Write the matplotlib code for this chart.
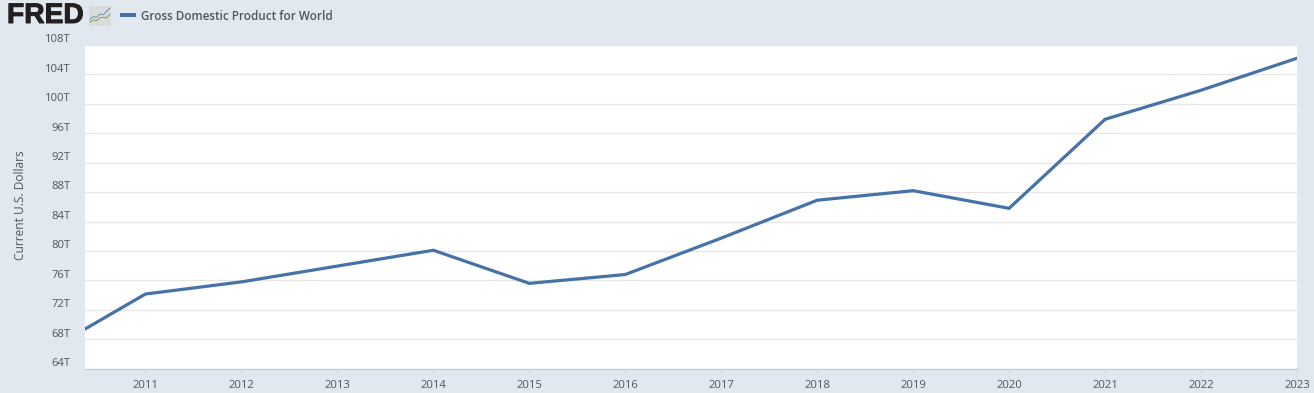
import matplotlib
matplotlib.use("Agg")
import matplotlib.pyplot as plt
import matplotlib.patheffects as pe
from matplotlib.patches import FancyBboxPatch, Rectangle

# World GDP, trillions of current USD
years = [2010, 2011, 2012, 2013, 2014, 2015, 2016, 2017, 2018, 2019, 2020, 2021, 2022, 2023]
gdp = [66.6, 74.15, 75.8, 77.95, 80.1, 75.6, 76.8, 81.75, 86.9, 88.2, 85.8, 97.9, 101.85, 106.2]

y_ticks = [64, 68, 72, 76, 80, 84, 88, 92, 96, 100, 104, 108]
x_ticks = [2011, 2012, 2013, 2014, 2015, 2016, 2017, 2018, 2019, 2020, 2021, 2022, 2023]

# little trend lines in the logo badge
logo_x = [0, 1, 2, 3, 4, 5, 6]
logo_blue = [3, 5, 4.5, 7, 6.5, 9, 11.5]
logo_green = [1, 2.5, 2, 4, 4.5, 4, 7]

W, H = 1314, 393
bg = "#e1e8ef"
blue = "#4572a7"
grey = "#51555d"

plt.rcParams["font.family"] = ["Open Sans", "DejaVu Sans"]

fig = plt.figure(figsize=(W / 100, H / 100), dpi=100, facecolor=bg)
ax = fig.add_axes([85 / W, 1 - 368.7 / H, (1297 - 85) / W, (368.7 - 45) / H])
ax.set_facecolor("white")

ax.plot(years, gdp, color=blue, lw=2.3, solid_joinstyle="miter", zorder=3)
ax.set_xlim(2011 - 60.5 / 96, 2023)
ax.set_ylim(64, 108)

ax.set_yticks(y_ticks)
ax.set_yticklabels([f"{v}T" for v in y_ticks])
ax.set_xticks(x_ticks)
ax.set_xticklabels([str(v) for v in x_ticks])
ax.grid(axis="y", color="#e6e6e6", lw=0.9)
ax.set_axisbelow(True)
for s in ["top", "right", "left"]:
    ax.spines[s].set_visible(False)
ax.spines["bottom"].set_color("#c0d0e0")
ax.spines["bottom"].set_linewidth(0.9)
ax.tick_params(axis="y", length=0, pad=10.5, labelsize=8.1, labelcolor=grey)
ax.tick_params(axis="x", length=7, width=0.8, color="#d5dfe9", pad=1.2, labelsize=8.1, labelcolor=grey)
# the y labels sit a little above their gridlines
for lab in ax.get_yticklabels():
    lab.set_verticalalignment("center")
    lab.set_transform(lab.get_transform() + matplotlib.transforms.ScaledTranslation(0, 5.2 / 100, fig.dpi_scale_trans))

fig.text(21 / W, 1 - 205.5 / H, "Current U.S. Dollars", rotation=90, ha="center", va="center",
         fontsize=8.6, color=grey)

# FRED logo and legend
fred = fig.text(7 / W, 1 - 16 / H, "FRED", fontsize=20.3, fontweight="bold", color="#231f20",
                ha="left", va="center", family=["Liberation Sans", "DejaVu Sans"])
fred.set_path_effects([pe.withStroke(linewidth=0.7, foreground="#231f20")])
fig.text(141 / W, 1 - 16 / H, "Gross Domestic Product for World", fontsize=8.35, color=grey,
         ha="left", va="center", fontweight="semibold")
fig.add_artist(Rectangle((120 / W, 1 - 16.5 / H), 16 / W, 3 / H, transform=fig.transFigure,
                         color=blue, lw=0))

badge = fig.add_axes([89 / W, 1 - 26 / H, 22 / W, 20 / H])
badge.set_xlim(-0.3, 6.3)
badge.set_ylim(-2, 13)
badge.axis("off")
badge.add_patch(FancyBboxPatch((-0.3, -2), 6.6, 15, boxstyle="round,pad=0,rounding_size=0.4",
                               fc="#d8dcdd", ec="none", mutation_aspect=2))
badge.plot(logo_x, logo_blue, color="#6f8fb5", lw=0.7)
badge.plot(logo_x, logo_green, color="#7f9f4f", lw=0.7)

fig.savefig("out.png", dpi=100, facecolor=bg)
